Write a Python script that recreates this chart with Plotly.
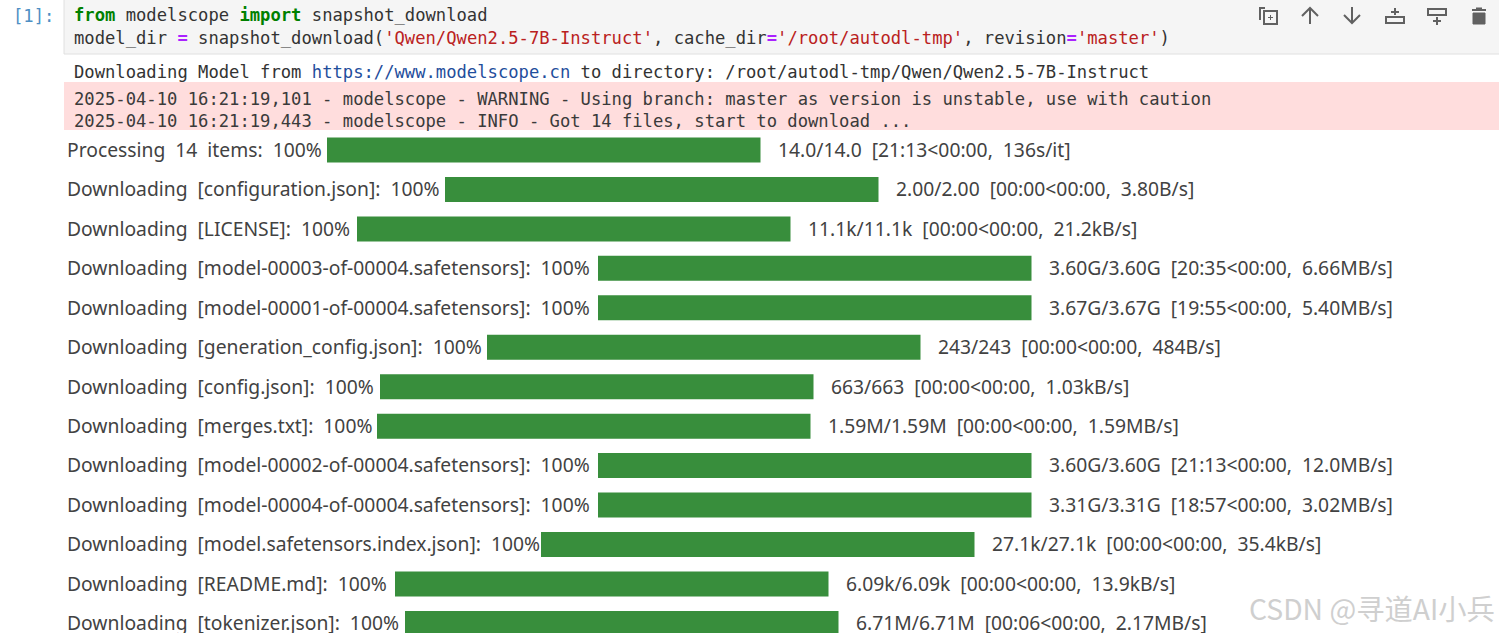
import plotly.graph_objects as go

# Dados das barras de progresso
item_labels = [
    'Processing  14  items:  100%',
    'Downloading  [configuration.json]:  100%',
    'Downloading  [LICENSE]:  100%',
    'Downloading  [model-00003-of-00004.safetensors]:  100%',
    'Downloading  [model-00001-of-00004.safetensors]:  100%',
    'Downloading  [generation_config.json]:  100%',
    'Downloading  [config.json]:  100%',
    'Downloading  [merges.txt]:  100%',
    'Downloading  [model-00002-of-00004.safetensors]:  100%',
    'Downloading  [model-00004-of-00004.safetensors]:  100%',
    'Downloading  [model.safetensors.index.json]:  100%',
    'Downloading  [README.md]:  100%',
    'Downloading  [tokenizer.json]:  100%',
]
percent_done = [100, 100, 100, 100, 100, 100, 100, 100, 100, 100, 100, 100, 100]
item_stats = [
    '14.0/14.0  [21:13<00:00,  136s/it]',
    '2.00/2.00  [00:00<00:00,  3.80B/s]',
    '11.1k/11.1k  [00:00<00:00,  21.2kB/s]',
    '3.60G/3.60G  [20:35<00:00,  6.66MB/s]',
    '3.67G/3.67G  [19:55<00:00,  5.40MB/s]',
    '243/243  [00:00<00:00,  484B/s]',
    '663/663  [00:00<00:00,  1.03kB/s]',
    '1.59M/1.59M  [00:00<00:00,  1.59MB/s]',
    '3.60G/3.60G  [21:13<00:00,  12.0MB/s]',
    '3.31G/3.31G  [18:57<00:00,  3.02MB/s]',
    '27.1k/27.1k  [00:00<00:00,  35.4kB/s]',
    '6.09k/6.09k  [00:00<00:00,  13.9kB/s]',
    '6.71M/6.71M  [00:06<00:00,  2.17MB/s]',
]

# Layout em pixels (a barra começa logo depois do texto)
bar_starts = [327, 445, 357, 598, 598, 487, 380, 377, 598, 598, 541, 395, 405]
bar_full = 433.5
first_row = 150
row_step = 39.45
row_y = [first_row + i * row_step for i in range(len(item_labels))]

SANS = 'Noto Sans'
MONO = 'DejaVu Sans Mono'
GREEN = '#388e3c'
TEXT = '#424242'
SANS_SIZE = 19.3
MONO_SIZE = 17.18


def nb(s):
    return s.replace(' ', '\u00a0').replace('<', '&lt;')


def col(s, c, bold=False):
    s = nb(s)
    if bold:
        s = '<b>' + s + '</b>'
    return f'<span style="color:{c}">{s}</span>'


K, S, O, B = '#008000', '#ba2121', '#aa22ff', '#333333'
code_1 = col('from', K, True) + col(' modelscope ', B) + col('import', K, True) + col(' snapshot_download', B)
code_2 = (col('model_dir ', B) + col('=', O, True) + col(' snapshot_download(', B)
          + col("'Qwen/Qwen2.5-7B-Instruct'", S) + col(', cache_dir', B) + col('=', O, True)
          + col("'/root/autodl-tmp'", S) + col(', revision', B) + col('=', O, True)
          + col("'master'", S) + col(')', B))
out_0 = (col('Downloading Model from ', B) + col('https://www.modelscope.cn', '#1f4e9c')
         + col(' to directory: /root/autodl-tmp/Qwen/Qwen2.5-7B-Instruct', B))
log_1 = '2025-04-10 16:21:19,101 - modelscope - WARNING - Using branch: master as version is unstable, use with caution'
log_2 = '2025-04-10 16:21:19,443 - modelscope - INFO - Got 14 files, start to download ...'

fig = go.Figure()
fig.add_trace(go.Bar(
    x=[p / 100 * bar_full for p in percent_done], y=row_y, base=bar_starts,
    orientation='h', width=25, marker=dict(color=GREEN, line=dict(width=0)),
    hoverinfo='skip',
))


def add_text(x, y, text, font, size, color=TEXT, anchor='left'):
    fig.add_annotation(x=x, y=y, xref='x', yref='y', text=text, showarrow=False,
                       xanchor=anchor, yanchor='middle', align='left',
                       font=dict(family=font, size=size, color=color))


# Célula de código e saída
add_text(71.5, 15, code_1, MONO, MONO_SIZE)
add_text(71.5, 38, code_2, MONO, MONO_SIZE)
add_text(11, 16, '[1]:', MONO, MONO_SIZE, '#4d8fc4')
add_text(71.5, 72, out_0, MONO, MONO_SIZE)
add_text(72, 99, nb(log_1), MONO, MONO_SIZE, '#3a3a3a')
add_text(72, 121, nb(log_2), MONO, MONO_SIZE, '#3a3a3a')

for lab, y, start, stat, pct in zip(item_labels, row_y, bar_starts, item_stats, percent_done):
    add_text(64.5, y - 0.7, nb(lab), SANS, SANS_SIZE)
    add_text(start + pct / 100 * bar_full + 15.5, y - 0.7, nb(stat), SANS, SANS_SIZE)

add_text(1247, 607, 'CSDN @寻道AI小兵', 'Noto Sans CJK SC', 28.3, '#cfcfcf')

ICON = '#616161'
line_icon = dict(color=ICON, width=2)
shapes = [
    dict(type='rect', x0=64, x1=1500, y0=-2, y1=54, fillcolor='#f5f5f5', line=dict(color='#e0e0e0', width=1), layer='below'),
    dict(type='rect', x0=64, x1=1500, y0=82, y1=130, fillcolor='#ffdddd', line=dict(width=0), layer='below'),
    # ícones da barra de ferramentas
    dict(type='path', path='M1265 8 H1260 V20', line=line_icon),
    dict(type='rect', x0=1264, x1=1277, y0=11, y1=24, line=line_icon),
    dict(type='path', path='M1268 17.5 H1273 M1270.5 15 V20', line=dict(color=ICON, width=1)),
    dict(type='path', path='M1310 24 V8 M1302 16 L1310 8 L1318 16', line=line_icon),
    dict(type='path', path='M1352 7 V23 M1344 15 L1352 23 L1360 15', line=line_icon),
    dict(type='rect', x0=1386, x1=1404, y0=17, y1=23, line=line_icon),
    dict(type='path', path='M1395 8 V15 M1391 12 H1399', line=line_icon),
    dict(type='rect', x0=1428, x1=1446, y0=9, y1=15, line=line_icon),
    dict(type='path', path='M1437 17 V25 M1433 21 H1441', line=line_icon),
    dict(type='path', path='M1473 13 H1485 V24 H1473 Z', fillcolor=ICON, line=dict(color=ICON, width=1)),
    dict(type='path', path='M1472 10 H1486 M1476 8.5 H1482', line=line_icon),
]

fig.update_layout(
    width=1499, height=633, margin=dict(l=0, r=0, t=0, b=0),
    paper_bgcolor='white', plot_bgcolor='white', showlegend=False, shapes=shapes,
    xaxis=dict(range=[0, 1499], visible=False, fixedrange=True),
    yaxis=dict(range=[633, 0], visible=False, fixedrange=True),
)

fig.write_html('out.html', config={'displayModeBar': False},
               post_script="document.body.style.margin='0';document.body.style.overflow='hidden';")
